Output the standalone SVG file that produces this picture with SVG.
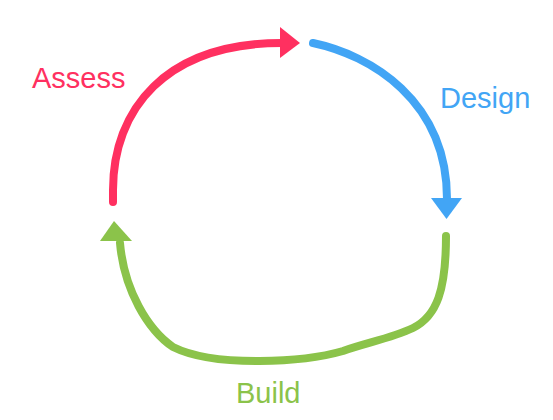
<svg xmlns="http://www.w3.org/2000/svg" width="553" height="420" viewBox="0 0 553 420">
<style>
.line{fill:none;stroke-width:8;stroke-linecap:round;stroke-linejoin:round}
.lbl{font-family:"Liberation Sans",Arial,sans-serif;font-size:29px}
</style>
<rect width="553" height="420" fill="#ffffff"/>
<g id="connectors">
  <g id="assess-arrow">
    <path class="line" stroke="#FF3060" d="M113,202 L113,190 C113,110 165,43 282,43"/>
    <polygon fill="#FF3060" points="280,27 300,43 280,58"/>
  </g>
  <g id="design-arrow">
    <path class="line" stroke="#42A5F5" d="M313,43 C370,55 447,100 447,199"/>
    <polygon fill="#42A5F5" points="431,198 462,198 446.5,219"/>
  </g>
  <g id="build-arrow">
    <path class="line" stroke="#8BC34A" d="M446,236 C446,290 437,316 413,328 C392,338 365,343 343,351 C305,362 215,368 173,347 C148,330 124,290 120,243"/>
    <polygon fill="#8BC34A" points="100,241 132,241 114,221"/>
  </g>
</g>
<g id="assess"><text class="lbl" x="32" y="88" fill="#FF3060">Assess</text></g>
<g id="design"><text class="lbl" x="440" y="108" fill="#42A5F5">Design</text></g>
<g id="build"><text class="lbl" x="236" y="403" fill="#8BC34A">Build</text></g>
</svg>
